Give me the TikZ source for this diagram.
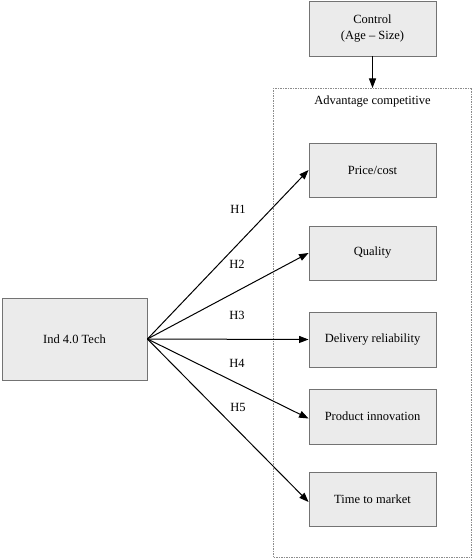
\documentclass[tikz,border=0pt]{standalone}
\usepackage{fontspec}
\setmainfont{Liberation Serif}
\usetikzlibrary{arrows.meta}
\begin{document}
\begin{tikzpicture}[x=1pt,y=-1pt,
  box/.style={draw=black!55,line width=0.9pt,fill=black!8,inner sep=0pt,font=\fontsize{12.5}{15.5}\selectfont,align=center},
  conn/.style={line width=1pt,-{Triangle[length=9.5pt,width=7pt]}},
  hlab/.style={font=\fontsize{12.5}{15}\selectfont}]
\useasboundingbox (0,0) rectangle (474,559);
\node[box,minimum width=127pt,minimum height=55pt] (ctrl) at (372.5,28.5) {Control\\(Age -- Size)};
\draw[black!45,dash pattern=on 1.5pt off 1pt,line width=0.9pt] (273,88) rectangle (471.5,557.5);
\coordinate (dtop) at (372.5,88);
\node[font=\fontsize{12.5}{15}\selectfont] (adv) at (372.5,102) {Advantage competitive};
\node[box,minimum width=127pt,minimum height=54pt] (price) at (372.5,170) {Price/cost};
\node[box,minimum width=127pt,minimum height=54pt] (qual) at (372.5,253) {Quality};
\node[box,minimum width=127pt,minimum height=55pt] (deliv) at (372.5,339.5) {Delivery reliability};
\node[box,minimum width=127pt,minimum height=55pt] (prod) at (372.5,416.5) {Product innovation};
\node[box,minimum width=127pt,minimum height=54pt] (time) at (372.5,499) {Time to market};
\node[box,minimum width=145pt,minimum height=82pt] (ind) at (74.5,339) {Ind 4.0 Tech};
\draw[conn] (ctrl.south) -- (dtop);
\draw[conn] (ind.east) -- (price.west);
\draw[conn] (ind.east) -- (qual.west);
\draw[conn] (ind.east) -- (deliv.west);
\draw[conn] (ind.east) -- ([yshift=-2pt]prod.west);
\draw[conn] (ind.east) -- ([yshift=-3pt]time.west);
\node[hlab] (h1) at (238,209) {H1};
\node[hlab] (h2) at (237,264) {H2};
\node[hlab] (h3) at (237,315) {H3};
\node[hlab] (h4) at (237,363) {H4};
\node[hlab] (h5) at (238,407) {H5};
\end{tikzpicture}
\end{document}
